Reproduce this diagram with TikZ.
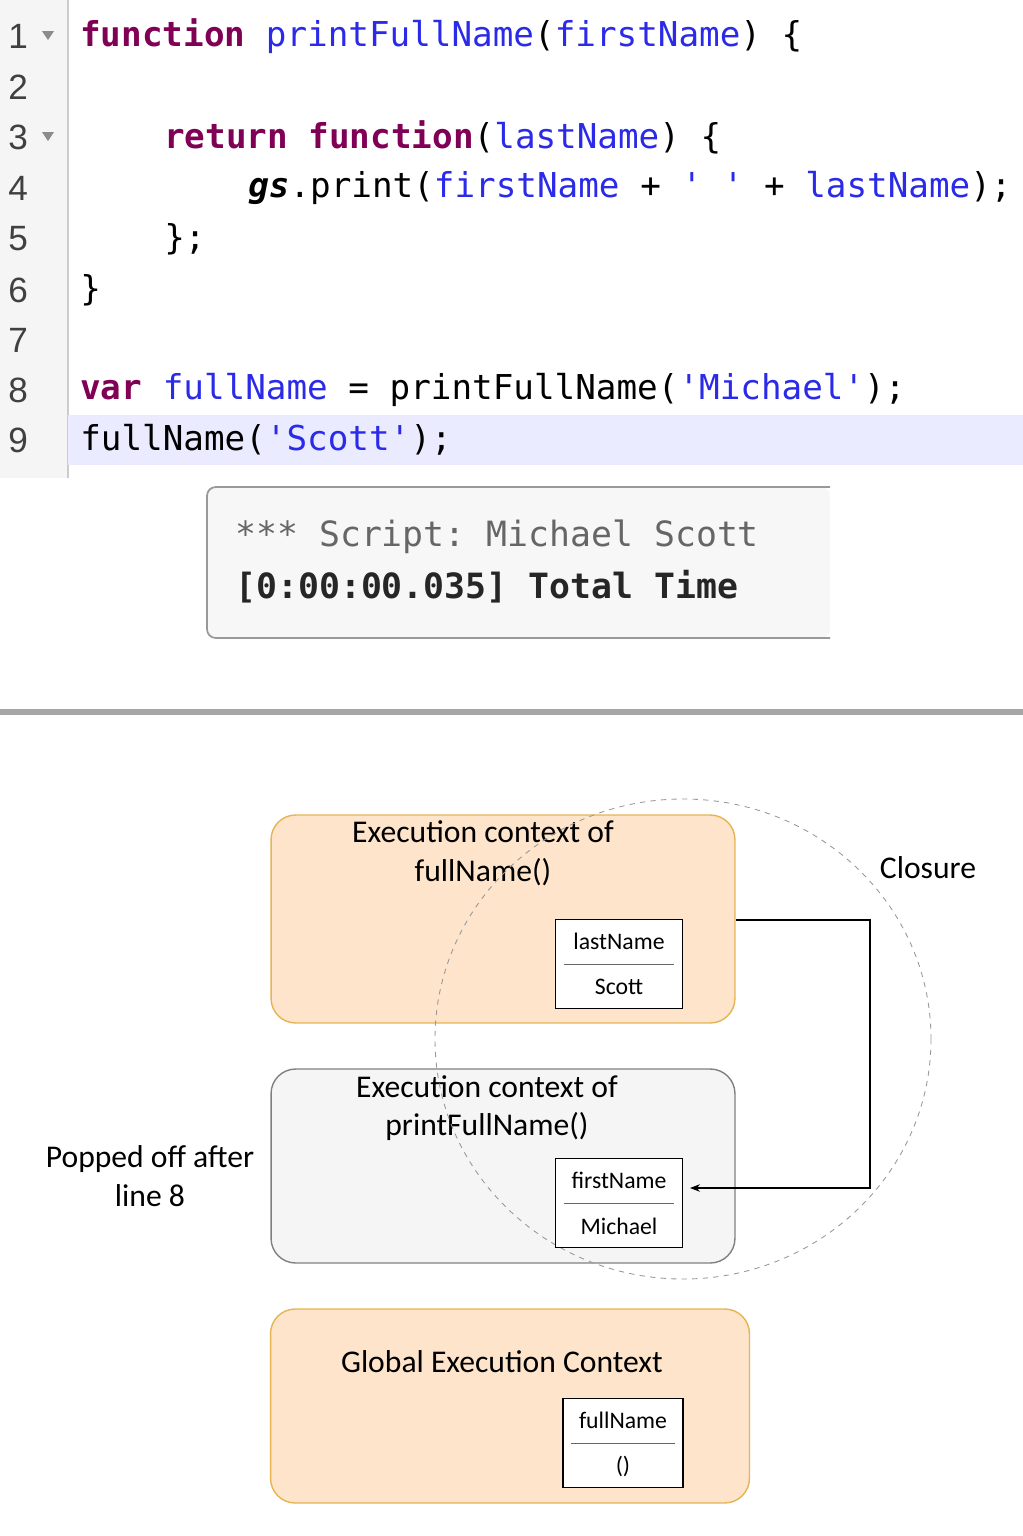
\documentclass[tikz,border=0pt]{standalone}
\usepackage{fontspec}
\setmonofont{DejaVu Sans Mono}
\newfontfamily\gutterfont{Liberation Sans}
\newfontfamily\handfont{Carlito}
\usetikzlibrary{positioning,arrows.meta}
\definecolor{kwcol}{HTML}{7F0055}
\definecolor{idcol}{HTML}{2A2AE8}
\definecolor{peach}{HTML}{FDE4CB}
\definecolor{peachline}{HTML}{E6B453}
\newcommand{\kw}[1]{\textcolor{kwcol}{\textbf{#1}}}
\newcommand{\idn}[1]{\textcolor{idcol}{#1}}

\begin{document}
\begin{tikzpicture}[x=0.02cm,y=-0.02cm,>=Stealth]
     		%define styles
     		\tikzset{
     			codeline/.style={anchor=west, inner sep=0pt, font=\fontsize{19.5}{22}\ttfamily},
     			lineno/.style={anchor=west, inner sep=0pt, font=\fontsize{20}{22}\gutterfont, text=black!75},
     			ctxbox/.style={rectangle, rounded corners=14pt, line width=0.8pt, draw=peachline, fill=peach},
     			stackbox/.style={rectangle, rounded corners=14pt, line width=0.8pt, draw=black!50, fill=black!4},
     			ctxlabel/.style={align=center, font=\fontsize{18}{22}\handfont, inner sep=0pt},
     			varcell/.style={rectangle, draw=black, fill=white, line width=0.6pt, minimum width=2.54cm, minimum height=1.78cm, inner sep=0pt},
     			varname/.style={font=\fontsize{13.5}{16}\handfont, inner sep=0pt},
     			arrow/.style={->, line width=0.6pt},
     			}
     		\useasboundingbox (0,0) rectangle (1023,1536);
     		%editor
     		\fill[black!4] (0,0) rectangle (68,478);
     		\draw[black!20, line width=1pt] (68,0) -- (68,478);
     		\fill[blue!8] (68,415) rectangle (1023,465);
     		\foreach \n/\y in {1/36,2/87,3/137,4/188,5/239,6/290,7/340,8/390,9/440}
     			\node[lineno] (no\n) at (8,\y) {\n};
     		\foreach \y in {36,137}
     			\fill[black!45] (42,\y-5) -- (54,\y-5) -- (48,\y+4) -- cycle;
     		\node[codeline] (c1) at (80,36) {\kw{function} \idn{printFullName}(\idn{firstName}) \{};
     		\node[codeline] (c3) at (164,137) {\kw{return} \kw{function}(\idn{lastName}) \{};
     		\node[codeline] (c4) at (248,188) {\textbf{\textit{gs}}.print(\idn{firstName} + \idn{' '} + \idn{lastName});};
     		\node[codeline] (c5) at (164,239) {\};};
     		\node[codeline] (c6) at (80,290) {\}};
     		\node[codeline] (c8) at (80,390) {\kw{var} \idn{fullName} = printFullName(\idn{'Michael'});};
     		\node[codeline] (c9) at (80,440) {fullName(\idn{'Scott'});};
     		%console
     		\fill[black!3, rounded corners=5pt] (830,487) -- (207,487) -- (207,638) -- (830,638) -- cycle;
     		\draw[black!40, line width=1pt, rounded corners=5pt] (830,487) -- (207,487) -- (207,638) -- (830,638);
     		\node[codeline, text=black!60] (out1) at (235,537) {\fontsize{19.8}{22}\selectfont *** Script: Michael Scott};
     		\node[codeline, text=black!85] (out2) at (235,587) {\fontsize{19.8}{22}\selectfont\bfseries [0:00:00.035] Total Time};
     		\draw[black!35, line width=3pt] (0,712) -- (1023,712);
     		%contexts
     		\node[ctxbox, minimum width=9.28cm, minimum height=4.16cm] (ctxfull) at (503,919) {};
     		\node[ctxlabel] (ctxfulltxt) at (483,853) {Execution context of\\fullName()};
     		\node[stackbox, minimum width=9.28cm, minimum height=3.88cm] (ctxprint) at (503,1166) {};
     		\node[ctxlabel] (ctxprinttxt) at (487,1108) {Execution context of\\printFullName()};
     		\node[ctxbox, minimum width=9.58cm, minimum height=3.88cm] (ctxglobal) at (510,1406) {};
     		\node[ctxlabel] (ctxglobaltxt) at (502,1362) {Global Execution Context};
     		\node[ctxlabel] (popped) at (150,1176) {Popped off after\\line 8};
     		%closure
     		\draw[black!40, dashed, line width=0.5pt] (683,1039) ellipse [x radius=248, y radius=240];
     		\node[ctxlabel] (closure) at (928,868) {Closure};
     		%variables
     		\foreach \nm/\x/\y/\top/\val/\w in {last/619/964/lastName/Scott/2.54, first/619/1203/firstName/Michael/2.54, full/623/1443/fullName/()/2.4}{
     			\node[varcell, minimum width=\w cm] (\nm box) at (\x,\y) {};
     			\draw[black!60, line width=0.5pt] ([xshift=5pt]\nm box.west) -- ([xshift=-5pt]\nm box.east);
     			\node[varname] (\nm name) at (\x,\y-23) {\top};
     			\node[varname] (\nm val) at (\x,\y+23) {\val};
     		}
     		%arrow
     		\coordinate (turn) at (870,920);
     		\draw[arrow] (ctxfull.east |- turn) -- (turn) |- ([shift={(7,-15)}]firstbox.east);
\end{tikzpicture}
\end{document}
